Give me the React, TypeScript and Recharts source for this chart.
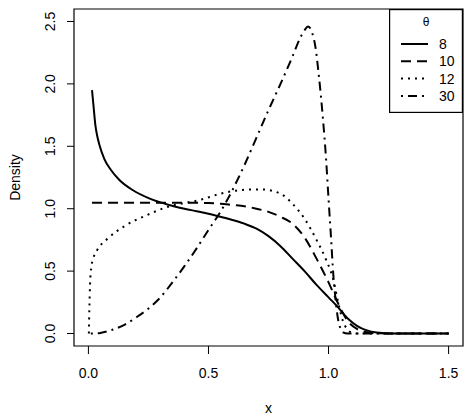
import React from "react";
import { LineChart, Line, XAxis, YAxis, ReferenceArea } from "recharts";

// theta = 8 (solid)
const theta8: [number, number][] = [
  [0.015, 1.95], [0.021, 1.83], [0.029, 1.67], [0.037, 1.58], [0.046, 1.51], [0.066, 1.4],
  [0.094, 1.31], [0.129, 1.23], [0.184, 1.15], [0.253, 1.083], [0.336, 1.03], [0.4, 1.0],
  [0.45, 0.98], [0.5, 0.96], [0.55, 0.935], [0.6, 0.91], [0.65, 0.88], [0.7, 0.84],
  [0.75, 0.78], [0.8, 0.7], [0.85, 0.6], [0.9, 0.5], [0.95, 0.39], [1.0, 0.29],
  [1.04, 0.21], [1.08, 0.12], [1.12, 0.06], [1.16, 0.025], [1.2, 0.008], [1.25, 0.001],
  [1.3, 0], [1.5, 0],
];
// theta = 10 (dashed)
const theta10: [number, number][] = [
  [0.015, 1.048], [0.2, 1.048], [0.45, 1.047], [0.5, 1.045], [0.55, 1.04], [0.6, 1.03],
  [0.65, 1.02], [0.7, 1.0], [0.75, 0.975], [0.8, 0.935], [0.85, 0.88], [0.9, 0.77],
  [0.95, 0.6], [1.0, 0.41], [1.04, 0.24], [1.08, 0.1], [1.12, 0.035], [1.16, 0.01],
  [1.2, 0.002], [1.25, 0], [1.5, 0],
];
// theta = 12 (dotted)
const theta12: [number, number][] = [
  [0.002, 0], [0.004, 0.2], [0.007, 0.4], [0.012, 0.53], [0.02, 0.6], [0.037, 0.67],
  [0.08, 0.76], [0.15, 0.86], [0.245, 0.95], [0.33, 1.015], [0.4, 1.045], [0.464, 1.07],
  [0.55, 1.12], [0.64, 1.15], [0.72, 1.155], [0.8, 1.12], [0.85, 1.04], [0.9, 0.92],
  [0.95, 0.75], [0.99, 0.59], [1.02, 0.43], [1.04, 0.25], [1.06, 0.1], [1.08, 0.03],
  [1.1, 0.005], [1.12, 0], [1.5, 0],
];
// theta = 30 (dot-dash)
const theta30: [number, number][] = [
  [0.01, 0], [0.05, 0.005], [0.1, 0.03], [0.15, 0.07], [0.2, 0.13], [0.25, 0.2],
  [0.3, 0.29], [0.35, 0.41], [0.4, 0.54], [0.45, 0.68], [0.5, 0.83], [0.55, 0.975],
  [0.6, 1.15], [0.65, 1.35], [0.7, 1.57], [0.75, 1.79], [0.8, 2.0], [0.85, 2.22],
  [0.88, 2.36], [0.9, 2.43], [0.915, 2.46], [0.93, 2.42], [0.945, 2.3], [0.96, 2.06],
  [0.975, 1.76], [0.99, 1.39], [1.0, 1.08], [1.01, 0.78], [1.02, 0.47], [1.03, 0.26],
  [1.04, 0.11], [1.05, 0.04], [1.06, 0.01], [1.08, 0], [1.5, 0],
];

const xTicks = [0, 0.5, 1, 1.5];
const yTicks = [0, 0.5, 1, 1.5, 2, 2.5];
const legendLabels = ["8", "10", "12", "30"];
const legendTitle = "θ";
const dashes = ["", "10 6", "2 5", "2 5 9 5"];
const seriesList = [theta8, theta10, theta12, theta30];

const FONT = "'Liberation Sans', Arial, Helvetica, sans-serif";

const toRows = (arr: [number, number][]) => arr.map(([x, y]) => ({ x, y }));

const XTick = (props: any) => {
  const { x, y, payload } = props;
  return (
    <text x={x} y={y} dy="0.71em" textAnchor="middle" fontSize={14} fontFamily={FONT} fill="#000">
      {Number(payload.value).toFixed(1)}
    </text>
  );
};

const YTick = (props: any) => {
  const { x, y, payload } = props;
  return (
    <text
      x={x}
      y={y}
      textAnchor="middle"
      fontSize={14}
      fontFamily={FONT}
      fill="#000"
      transform={`rotate(-90, ${x}, ${y})`}
    >
      {Number(payload.value).toFixed(1)}
    </text>
  );
};

export default function App() {
  return (
    <div style={{ position: "absolute", left: 0, top: 0, width: 474, height: 419, background: "#fff" }}>
      <LineChart width={474} height={419} margin={{ top: 9, right: 11, left: 0, bottom: 0 }}>
        <XAxis
          dataKey="x"
          type="number"
          domain={[-0.06, 1.56]}
          ticks={xTicks}
          allowDataOverflow
          axisLine={false}
          tickLine={{ stroke: "#000", strokeWidth: 1 }}
          tickSize={8}
          tickMargin={14}
          height={73}
          tick={<XTick />}
          label={{ value: "x", position: "insideBottom", offset: 6, fontSize: 14, fontFamily: FONT, fill: "#000" }}
        />
        <YAxis
          type="number"
          domain={[-0.1, 2.6]}
          ticks={yTicks}
          allowDataOverflow
          axisLine={false}
          tickLine={{ stroke: "#000", strokeWidth: 1 }}
          tickSize={7}
          tickMargin={12}
          width={74}
          tick={<YTick />}
          label={{
            value: "Density",
            angle: -90,
            position: "insideLeft",
            offset: 15,
            fontSize: 14,
            fontFamily: FONT,
            fill: "#000",
            style: { textAnchor: "middle" },
          }}
        />
        <ReferenceArea
          x1={-0.06}
          x2={1.56}
          y1={-0.1}
          y2={2.6}
          fill="none"
          fillOpacity={0}
          stroke="#000"
          strokeWidth={1.2}
          ifOverflow="visible"
        />
        {seriesList.map((s, i) => (
          <Line
            key={legendLabels[i]}
            data={toRows(s)}
            dataKey="y"
            type="monotone"
            stroke="#000"
            strokeWidth={2}
            strokeDasharray={dashes[i] || undefined}
            dot={false}
            activeDot={false}
            isAnimationActive={false}
          />
        ))}
      </LineChart>
      <svg
        style={{ position: "absolute", left: 389, top: 9 }}
        width={74}
        height={104}
      >
        <rect x={0.6} y={0.6} width={72.8} height={102.8} fill="#fff" stroke="#000" strokeWidth={1.2} />
        <text x={37} y={14} textAnchor="middle" dominantBaseline="middle" fontSize={12} fontFamily={FONT} fill="#000">
          {legendTitle}
        </text>
        {legendLabels.map((lab, i) => {
          const cy = 35 + i * 17.3;
          return (
            <g key={lab}>
              <line
                x1={12}
                x2={39}
                y1={cy}
                y2={cy}
                stroke="#000"
                strokeWidth={2}
                strokeDasharray={dashes[i] || undefined}
              />
              <text x={50} y={cy} dy="0.36em" fontSize={14} fontFamily={FONT} fill="#000">
                {lab}
              </text>
            </g>
          );
        })}
      </svg>
    </div>
  );
}
